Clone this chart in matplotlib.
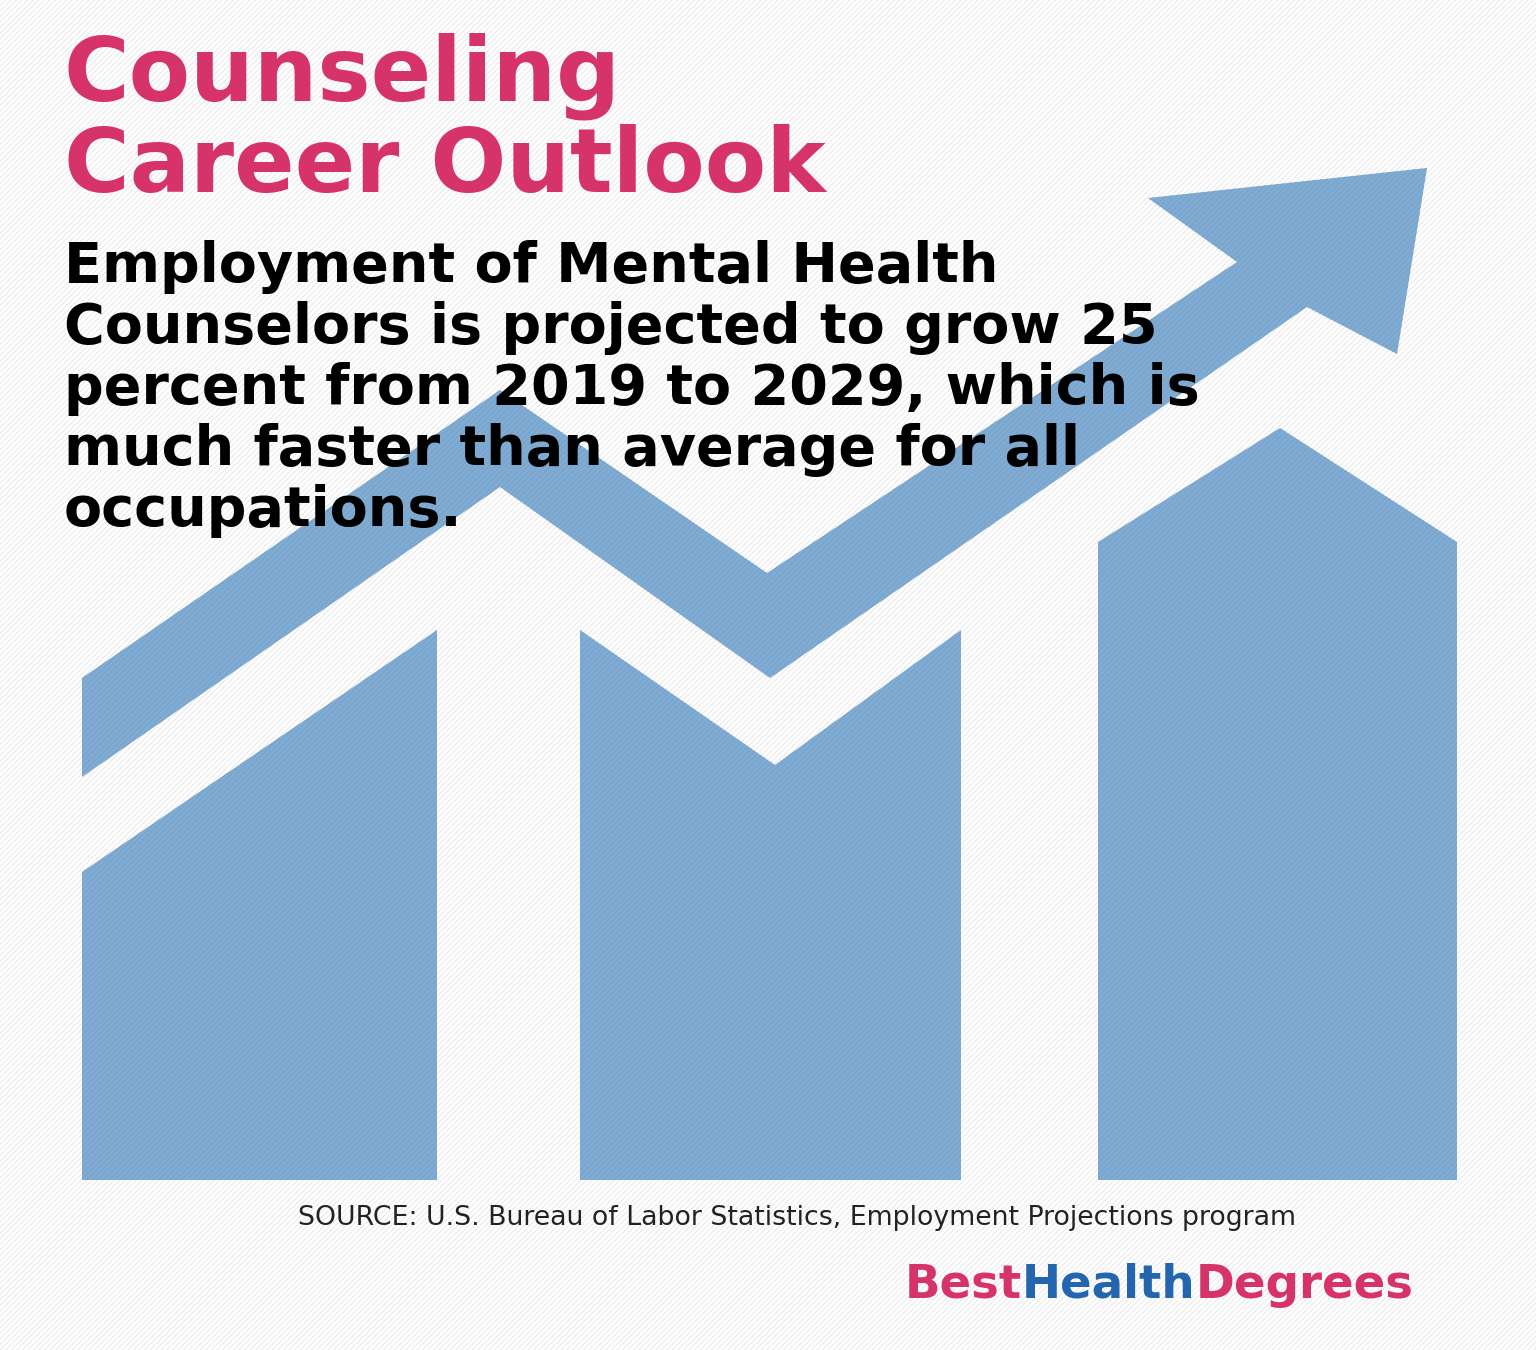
import matplotlib.pyplot as plt
from matplotlib.patches import Polygon, Rectangle

W, H = 1536, 1350

# shape outlines in image pixels (x, y from top)
bar_left = [(82, 872), (437, 630), (437, 1180), (82, 1180)]
bar_mid = [(580, 630), (775, 765), (961, 630), (961, 1180), (580, 1180)]
bar_right = [(1098, 542), (1280, 428), (1457, 542), (1457, 1180), (1098, 1180)]
arrow = [(82, 678), (500, 390), (767, 573), (1237, 262), (1148, 198),
         (1427, 168), (1397, 354), (1307, 307), (770, 678), (500, 487), (82, 777)]

title_lines = ["Counseling", "Career Outlook"]
body_lines = ["Employment of Mental Health",
              "Counselors is projected to grow 25",
              "percent from 2019 to 2029, which is",
              "much faster than average for all",
              "occupations."]
source = "SOURCE: U.S. Bureau of Labor Statistics, Employment Projections program"
logo = [("Best", "#d7336b"), ("Health", "#2466ad"), ("Degrees", "#d7336b")]

BLUE = "#80abd2"
PINK = "#d7336b"

fig = plt.figure(figsize=(W / 100, H / 100), dpi=100)
ax = fig.add_axes([0, 0, 1, 1])
ax.set_xlim(0, W)
ax.set_ylim(H, 0)
ax.set_axis_off()
r = fig.canvas.get_renderer()


def fit(t, width):
    # scale font so the text spans the given pixel width
    w = t.get_window_extent(r).width
    t.set_fontsize(t.get_fontsize() * width / w)


# faint diagonal texture
plt.rcParams["hatch.linewidth"] = 0.6
ax.add_patch(Rectangle((0, 0), W, H, facecolor="white", edgecolor="#e4e4e4",
                       hatch="//////", lw=0, zorder=0))

for pts in (bar_left, bar_mid, bar_right, arrow):
    ax.add_patch(Polygon(pts, closed=True, facecolor=BLUE, edgecolor="#77a1c8",
                         hatch="//////", lw=0, zorder=1))

for i, line in enumerate(title_lines):
    t = ax.text(64, 100 + i * 92, line, fontsize=64, fontweight="black",
                family="DejaVu Sans", color=PINK, va="baseline", zorder=3)
    if i == 1:
        fit(t, 762)
        ax.texts[0].set_fontsize(t.get_fontsize())

for i, line in enumerate(body_lines):
    t = ax.text(64, 282 + i * 61, line, fontsize=40, fontweight="bold",
                family="DejaVu Sans", color="black", va="baseline", zorder=3)
    if i == 2:
        fit(t, 1136)
        body_size = t.get_fontsize()
for t in ax.texts[2:]:
    t.set_fontsize(body_size)

t = ax.text(797, 1225, source, fontsize=17, family="DejaVu Sans", color="#222222",
            ha="center", va="baseline", zorder=3)
fit(t, 1002)

# logo words placed one after another
x = 905
words = []
for word, col in logo:
    words.append(ax.text(0, 1298, word, fontsize=36, fontweight="bold",
                         family="DejaVu Sans", color=col, va="baseline", zorder=3))
total = sum(w.get_window_extent(r).width for w in words)
for w in words:
    w.set_fontsize(w.get_fontsize() * 510 / total)
for w in words:
    w.set_x(x)
    x += w.get_window_extent(r).width

fig.savefig("out.png", dpi=100)
